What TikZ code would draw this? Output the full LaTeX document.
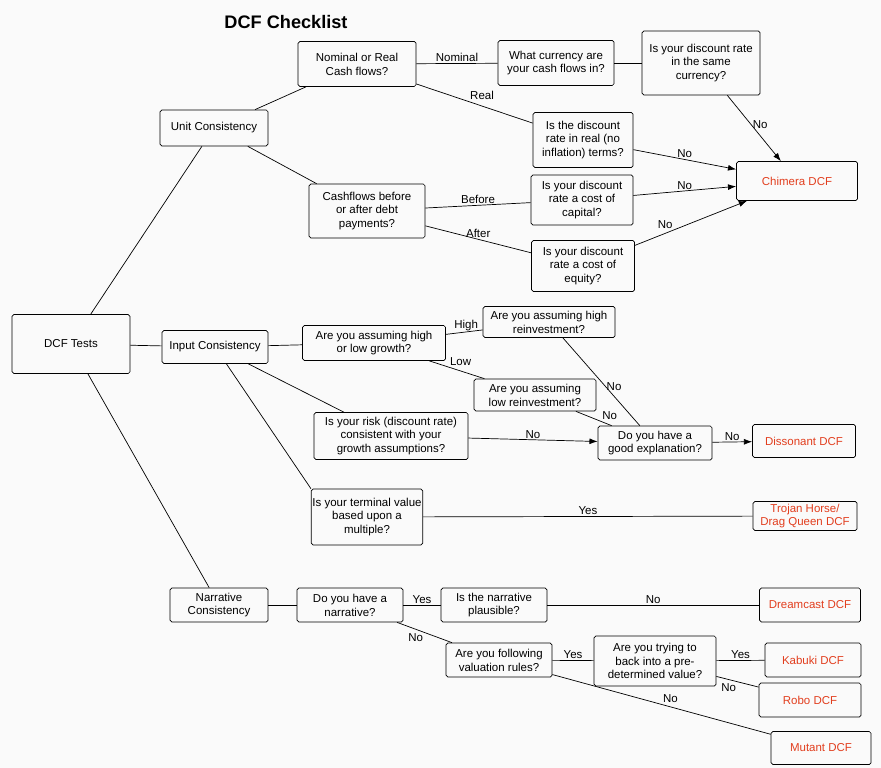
\documentclass[tikz,border=0pt]{standalone}
\usepackage{fontspec}
\setmainfont{Liberation Sans}
\usetikzlibrary{arrows.meta}
\definecolor{dcfred}{RGB}{226,62,30}
\tikzset{
  box/.style 2 args={draw,rounded corners=1.5pt,align=center,inner sep=1pt,
    minimum width=#1*0.03cm,minimum height=#2*0.03cm,
    font=\fontsize{9.8}{11.8}\selectfont},
  result/.style={text=dcfred},
  lbl/.style={font=\fontsize{9.8}{11}\selectfont,inner sep=1pt},
  arr/.style={-{Latex[length=7pt,width=5pt]}}
}
\begin{document}
\begin{tikzpicture}[x=0.03cm,y=-0.03cm,line width=0.6pt,>=latex]
  \useasboundingbox[fill=white!98!black] (0,0) rectangle (881,768);
% title
  \node[font=\bfseries\fontsize{15.5}{17}\selectfont] (title) at (286,22) {DCF Checklist};
% first level
  \node[box={118}{59}] (tests) at (71,344) {DCF Tests};
  \node[box={108}{36}] (unit) at (214,128) {Unit Consistency};
  \node[box={106}{33}] (input) at (215,347) {Input Consistency};
  \node[box={98}{34}] (narr) at (219,605) {Narrative\\Consistency};
% unit consistency
  \node[box={118}{45}] (nomreal) at (357,64) {Nominal or Real\\Cash flows?};
  \node[box={116}{45}] (currency) at (556,63) {What currency are\\your cash flows in?};
  \node[box={118}{64}] (same) at (701,63) {Is your discount rate\\in the same\\currency?};
  \node[box={100}{55}] (realdr) at (583,140) {Is the discount\\rate in real (no\\inflation) terms?};
  \node[box={121}{39},result] (chimera) at (797,181) {Chimera DCF};
  \node[box={116}{54}] (debt) at (367,211) {Cashflows before\\or after debt\\payments?};
  \node[box={102}{50}] (capital) at (582,200) {Is your discount\\rate a cost of\\capital?};
  \node[box={103}{51}] (equity) at (583,266) {Is your discount\\rate a cost of\\equity?};
% input consistency
  \node[box={143}{35}] (growth) at (374,343) {Are you assuming high\\or low growth?};
  \node[box={132}{31}] (highre) at (549,322) {Are you assuming high\\reinvestment?};
  \node[box={122}{32}] (lowre) at (535,395) {Are you assuming\\low reinvestment?};
  \node[box={154}{47}] (risk) at (391,436) {Is your risk (discount rate)\\consistent with your\\growth assumptions?};
  \node[box={114}{34}] (explain) at (655,443) {Do you have a\\good explanation?};
  \node[box={103}{33},result] (dissonant) at (804,441) {Dissonant DCF};
  \node[box={104}{56}] (terminal) at (367,517) {Is your terminal value\\based upon a\\multiple?};
  \node[box={104}{29},result] (trojan) at (805,516) {Trojan Horse/\\Drag Queen DCF};
% narrative consistency
  \node[box={106}{34}] (havenarr) at (350,605) {Do you have a\\narrative?};
  \node[box={106}{34}] (plausible) at (494,605) {Is the narrative\\plausible?};
  \node[box={101}{34},result] (dreamcast) at (810,605) {Dreamcast DCF};
  \node[box={106}{34}] (rules) at (499,660) {Are you following\\valuation rules?};
  \node[box={122}{50}] (backinto) at (655,661) {Are you trying to\\back into a pre-\\determined value?};
  \node[box={96}{34},result] (kabuki) at (813,660) {Kabuki DCF};
  \node[box={102}{34},result] (robo) at (810,700) {Robo DCF};
  \node[box={100}{33},result] (mutant) at (821,748) {Mutant DCF};
% connectors
  \draw (tests) -- (unit);
  \draw (tests) -- (input);
  \draw (tests) -- (narr);
  \draw (unit) -- (nomreal);
  \draw (unit) -- (debt);
  \draw (nomreal) -- node[lbl,above] {Nominal} (currency);
  \draw (currency) -- (same);
  \draw (nomreal) -- node[lbl,above right,pos=0.45] {Real} (realdr);
  \draw[arr] (same) -- node[lbl,right,pos=0.45] {No} (chimera);
  \draw[arr] (realdr) -- node[lbl,above,pos=0.5] {No} (chimera);
  \draw (debt) -- node[lbl,above] {Before} (capital);
  \draw (debt) -- node[lbl,above] {After} (equity);
  \draw[arr] (capital) -- node[lbl,above] {No} (chimera);
  \draw[arr] (equity) -- node[lbl,above left,pos=0.35] {No} (chimera);
  \draw (input) -- (growth);
  \draw (input) -- (risk);
  \draw (input) -- (terminal.north west);
  \draw (growth) -- node[lbl,above,pos=0.55] {High} (highre);
  \draw (growth) -- node[lbl,above right,pos=0.35] {Low} (lowre);
  \draw (highre) -- node[lbl,right,pos=0.55] {No} (explain);
  \draw (lowre) -- node[lbl,above right,pos=0.7] {No} (explain);
  \draw[arr] (risk) -- node[lbl,above] {No} (explain);
  \draw[arr] (explain) -- node[lbl,above] {No} (dissonant);
  \draw (terminal) -- node[lbl,above] {Yes} (trojan);
  \draw (narr) -- (havenarr);
  \draw (havenarr) -- node[lbl,above] {Yes} (plausible);
  \draw (havenarr) -- node[lbl,below left] {No} (rules);
  \draw (plausible) -- node[lbl,above] {No} (dreamcast);
  \draw (rules) -- node[lbl,above] {Yes} (backinto);
  \draw (backinto) -- node[lbl,above] {Yes} (kabuki);
  \draw (backinto) -- node[lbl,below left] {No} (robo);
  \draw (rules) -- node[lbl,above right] {No} (mutant);
\end{tikzpicture}
\end{document}
